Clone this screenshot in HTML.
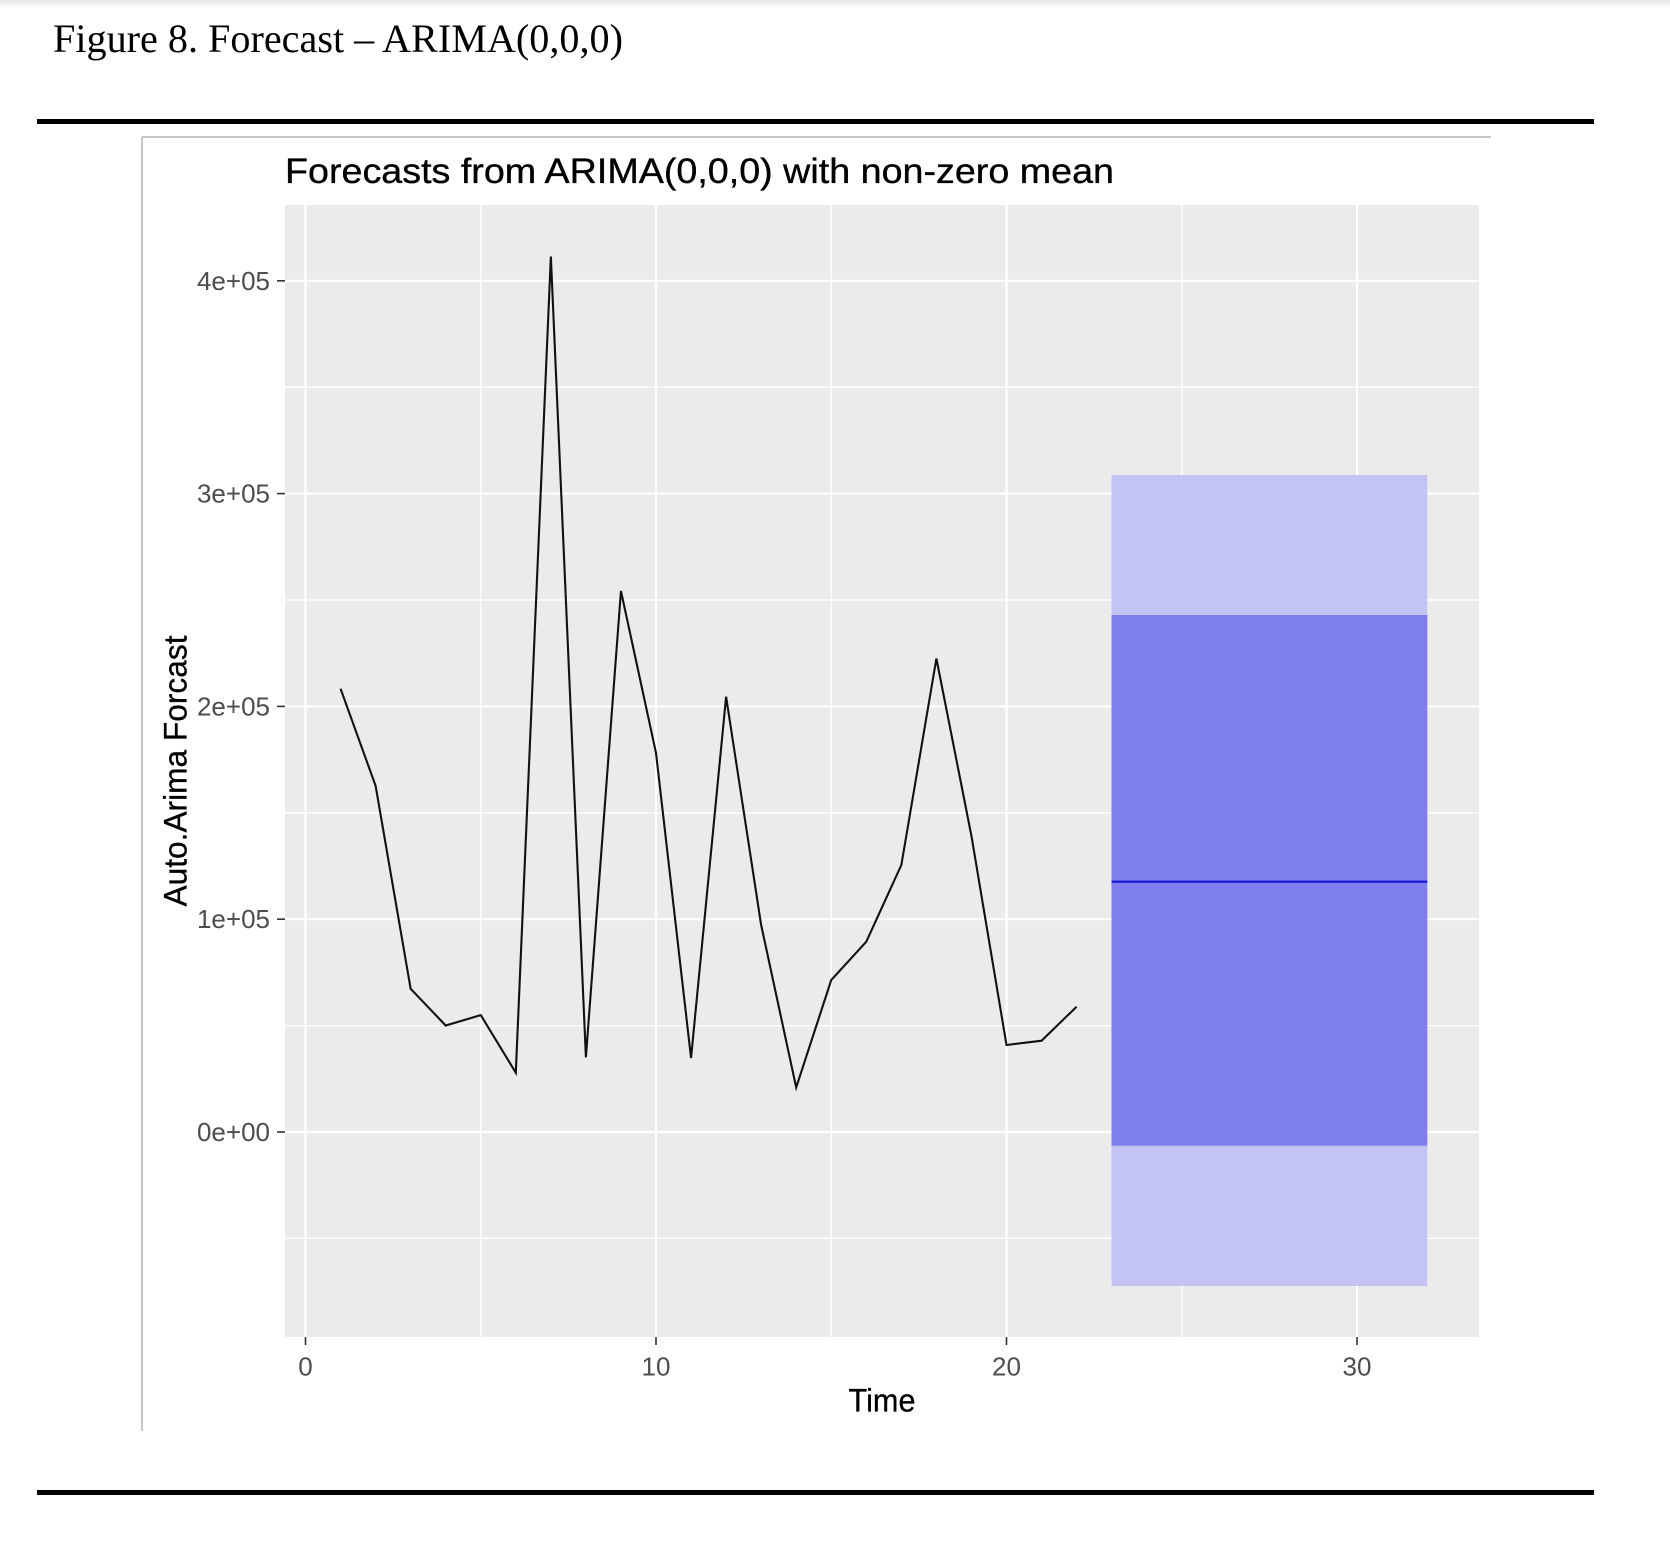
<!DOCTYPE html>
<html>
<head>
<meta charset="utf-8">
<style>
  html, body { margin: 0; padding: 0; background: #ffffff; }
  body { width: 1670px; height: 1550px; overflow: hidden; position: relative; }
  svg { position: absolute; left: 0; top: 0; }
</style>
</head>
<body>
<svg width="1670" height="1550" viewBox="0 0 1670 1550" xmlns="http://www.w3.org/2000/svg">
  <defs>
    <linearGradient id="topfade" x1="0" y1="0" x2="0" y2="1">
      <stop offset="0" stop-color="#e6e6e6"/>
      <stop offset="1" stop-color="#ffffff"/>
    </linearGradient>
  </defs>
  <rect x="0" y="0" width="1670" height="1550" fill="#ffffff"/>
  <rect x="0" y="0" width="1670" height="8" fill="url(#topfade)"/>

  <!-- Figure caption -->
  <text x="53" y="52" font-family="'Liberation Serif', serif" font-size="40" fill="#000" textLength="570" lengthAdjust="spacingAndGlyphs">Figure 8. Forecast – ARIMA(0,0,0)</text>

  <!-- Rules -->
  <rect x="37" y="119" width="1557" height="5" fill="#000"/>
  <rect x="37" y="1490" width="1557" height="5" fill="#000"/>

  <!-- Chart box border -->
  <line x1="142" y1="137" x2="142" y2="1431" stroke="#b4b4b4" stroke-width="1.5"/>
  <line x1="142" y1="137" x2="1491" y2="137" stroke="#b4b4b4" stroke-width="1.5"/>

  <!-- Chart title -->
  <text x="285" y="183" font-family="'Liberation Sans', Arial, sans-serif" font-size="35" fill="#000" stroke="#000" stroke-width="0.35" textLength="829" lengthAdjust="spacingAndGlyphs">Forecasts from ARIMA(0,0,0) with non-zero mean</text>

  <!-- Panel -->
  <rect x="285" y="205" width="1194" height="1132" fill="#ebebeb"/>

  <!-- minor gridlines -->
  <g stroke="#ffffff" stroke-width="1.3">
    <line x1="285" x2="1479" y1="1238.4" y2="1238.4"/>
    <line x1="285" x2="1479" y1="1025.6" y2="1025.6"/>
    <line x1="285" x2="1479" y1="812.8" y2="812.8"/>
    <line x1="285" x2="1479" y1="600" y2="600"/>
    <line x1="285" x2="1479" y1="387.2" y2="387.2"/>
    <line y1="205" y2="1337" x1="480.8" x2="480.8"/>
    <line y1="205" y2="1337" x1="831.3" x2="831.3"/>
    <line y1="205" y2="1337" x1="1181.8" x2="1181.8"/>
  </g>
  <!-- major gridlines -->
  <g stroke="#ffffff" stroke-width="2.2">
    <line x1="285" x2="1479" y1="1132" y2="1132"/>
    <line x1="285" x2="1479" y1="919.2" y2="919.2"/>
    <line x1="285" x2="1479" y1="706.4" y2="706.4"/>
    <line x1="285" x2="1479" y1="493.6" y2="493.6"/>
    <line x1="285" x2="1479" y1="280.8" y2="280.8"/>
    <line y1="205" y2="1337" x1="305.5" x2="305.5"/>
    <line y1="205" y2="1337" x1="656" x2="656"/>
    <line y1="205" y2="1337" x1="1006.5" x2="1006.5"/>
    <line y1="205" y2="1337" x1="1357" x2="1357"/>
  </g>

  <!-- Forecast bands -->
  <rect x="1111.5" y="475" width="315.8" height="811" fill="#c4c4f4"/>
  <rect x="1111.5" y="615" width="315.8" height="530.7" fill="#7e7eee"/>
  <line x1="1111.5" x2="1427.3" y1="881.7" y2="881.7" stroke="#1414d2" stroke-width="2.2"/>

  <!-- Series -->
  <polyline fill="none" stroke="#111111" stroke-width="2.1" stroke-linejoin="miter"
    points="340.55,688.7 375.6,785.8 410.65,988.8 445.7,1025.5 480.75,1015.1 515.8,1072.7 550.85,256.5 585.9,1057.3 620.95,591 656,752.9 691.05,1058 726.1,696.7 761.15,925 796.2,1087.5 831.25,980 866.3,941.7 901.35,865 936.4,658.5 971.45,836 1006.5,1045 1041.55,1040.7 1076.6,1006.7"/>

  <!-- Axis ticks -->
  <g stroke="#333333" stroke-width="1.6">
    <line x1="277" x2="285" y1="1132" y2="1132"/>
    <line x1="277" x2="285" y1="919.2" y2="919.2"/>
    <line x1="277" x2="285" y1="706.4" y2="706.4"/>
    <line x1="277" x2="285" y1="493.6" y2="493.6"/>
    <line x1="277" x2="285" y1="280.8" y2="280.8"/>
    <line y1="1337" y2="1345" x1="305.5" x2="305.5"/>
    <line y1="1337" y2="1345" x1="656" x2="656"/>
    <line y1="1337" y2="1345" x1="1006.5" x2="1006.5"/>
    <line y1="1337" y2="1345" x1="1357" x2="1357"/>
  </g>

  <!-- Y tick labels -->
  <g font-family="'Liberation Sans', Arial, sans-serif" font-size="26" fill="#4d4d4d" text-anchor="end">
    <text x="270" y="1141">0e+00</text>
    <text x="270" y="928.2">1e+05</text>
    <text x="270" y="715.4">2e+05</text>
    <text x="270" y="502.6">3e+05</text>
    <text x="270" y="289.8">4e+05</text>
  </g>

  <!-- X tick labels -->
  <g font-family="'Liberation Sans', Arial, sans-serif" font-size="26" fill="#4d4d4d" text-anchor="middle">
    <text x="305.5" y="1375.5">0</text>
    <text x="656" y="1375.5">10</text>
    <text x="1006.5" y="1375.5">20</text>
    <text x="1357" y="1375.5">30</text>
  </g>

  <!-- Axis titles -->
  <text x="882" y="1411.5" font-family="'Liberation Sans', Arial, sans-serif" font-size="32" fill="#000" stroke="#000" stroke-width="0.3" text-anchor="middle" textLength="67" lengthAdjust="spacingAndGlyphs">Time</text>
  <text transform="translate(186.5,771) rotate(-90)" x="0" y="0" font-family="'Liberation Sans', Arial, sans-serif" font-size="32" fill="#000" stroke="#000" stroke-width="0.3" text-anchor="middle" textLength="271" lengthAdjust="spacingAndGlyphs">Auto.Arima Forcast</text>
</svg>
</body>
</html>
